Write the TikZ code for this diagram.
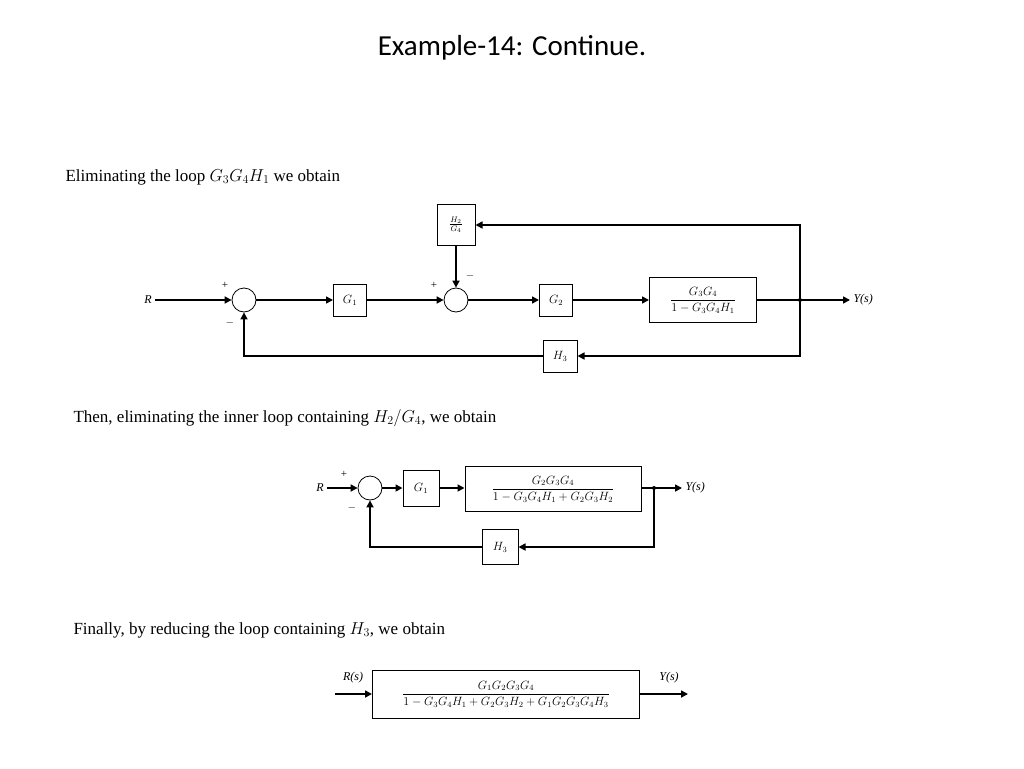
\documentclass[tikz,border=0pt]{standalone}
\usepackage{amsmath}
\usepackage{fontspec}
\setmainfont{Liberation Serif}
\newfontfamily\titlefont{Carlito}
\usetikzlibrary{arrows.meta}
\begin{document}
\begin{tikzpicture}[x=1pt,y=-1pt,
 blk/.style={draw,line width=1pt,inner sep=0pt,font=\fontsize{12}{13}\selectfont},
 sum/.style={draw,line width=0.8pt,circle,minimum size=24pt,inner sep=0pt},
 sig/.style={line width=1.6pt,-{Triangle[length=7pt,width=7pt]}},
 ln/.style={line width=1.6pt},
 lab/.style={font=\fontsize{12}{13}\selectfont\itshape},
 sg/.style={font=\fontsize{11}{12}\selectfont},
 txt/.style={anchor=west,font=\fontsize{17}{19}\selectfont}]
\useasboundingbox (0,0) rectangle (1024,768);
\node[font=\titlefont\fontsize{29}{32}\selectfont] (title) at (512,48) {Example-14: Continue.};
% diagram 1
\node[txt] (t1) at (62,177) {Eliminating the loop $G_3G_4H_1$ we obtain};
\node[lab] (R1) at (148,300) {R};
\node[sum] (s1) at (244,300) {};
\node[blk,minimum width=33pt,minimum height=32pt] (g1) at (350,300) {$G_1$};
\node[sum] (s2) at (456,300) {};
\node[blk,minimum width=38pt,minimum height=41pt] (h2) at (456,225) {$\frac{H_2}{G_4}$};
\node[blk,minimum width=33pt,minimum height=32pt] (g2) at (556,300) {$G_2$};
\node[blk,minimum width=107pt,minimum height=45pt] (g34) at (703,300) {$\dfrac{G_3G_4}{1-G_3G_4H_1}$};
\node[blk,minimum width=34pt,minimum height=32pt] (h3) at (560,356) {$H_3$};
\coordinate (sp1) at (800,300);
\node[lab,anchor=west] (y1) at (850,300) {Y(s)};
\draw[sig] (R1.east) -- (s1);
\draw[sig] (s1) -- (g1);
\draw[sig] (g1) -- (s2);
\draw[sig] (s2) -- (g2);
\draw[sig] (g2) -- (g34);
\draw[sig] (g34) -- (y1.west);
\draw[sig] (sp1) |- (h2.east);
\draw[sig] (sp1) |- (h3.east);
\draw[sig] (h3.west) -| (s1.south);
\draw[sig] (h2) -- (s2);
\fill (sp1) circle (2pt);
\node[sg] (p1) at (225,285) {+};
\node[sg] (m1) at (230,323) {$-$};
\node[sg] (p2) at (434,285) {+};
\node[sg] (m2) at (470,276) {$-$};
% diagram 2
\node[txt] (t2) at (70,418) {Then, eliminating the inner loop containing $H_2/G_4$, we obtain};
\node[lab] (R2) at (320,488) {R};
\node[sum] (s3) at (370,488) {};
\node[blk,minimum width=36pt,minimum height=36pt] (g1b) at (421,488) {$G_1$};
\node[blk,minimum width=176pt,minimum height=45pt] (gb) at (553,489) {$\dfrac{G_2G_3G_4}{1-G_3G_4H_1+G_2G_3H_2}$};
\node[blk,minimum width=36pt,minimum height=35pt] (h3b) at (500,547) {$H_3$};
\coordinate (sp2) at (654,488);
\node[lab,anchor=west] (y2) at (682,488) {Y(s)};
\draw[sig] (R2.east) -- (s3);
\draw[sig] (s3) -- (g1b);
\draw[sig] (g1b) -- (gb.west|-g1b);
\draw[sig] (gb.east|-sp2) -- (y2.west);
\draw[sig] (sp2) |- (h3b.east);
\draw[sig] (h3b.west) -| (s3.south);
\fill (sp2) circle (2pt);
\node[sg] (p3) at (344,474) {+};
\node[sg] (m3) at (352,508) {$-$};
% diagram 3
\node[txt] (t3) at (70,630) {Finally, by reducing the loop containing $H_3$, we obtain};
\node[blk,minimum width=267pt,minimum height=48pt] (gc) at (506,694) {$\dfrac{G_1G_2G_3G_4}{1-G_3G_4H_1+G_2G_3H_2+G_1G_2G_3G_4H_3}$};
\coordinate (in3) at (335,694);
\coordinate (out3) at (688,694);
\node[lab] (r3) at (353,678) {R(s)};
\node[lab] (y3) at (669,678) {Y(s)};
\draw[sig] (in3) -- (gc.west);
\draw[sig] (gc.east) -- (out3);
\end{tikzpicture}
\end{document}
